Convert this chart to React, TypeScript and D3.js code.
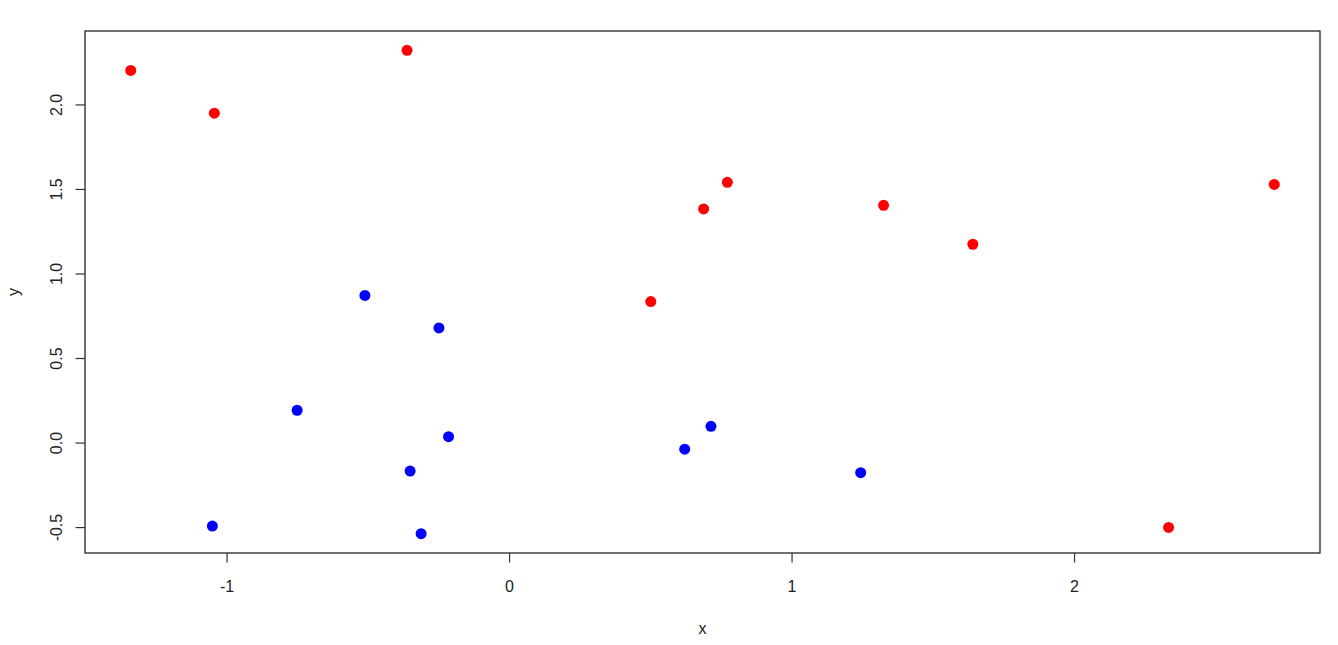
import React from 'react';
import * as d3 from 'd3';

// points
const redX = [-1.341, -1.045, -0.363, 0.500, 0.687, 0.771, 1.324, 1.640, 2.707, 2.333];
const redY = [2.204, 1.951, 2.323, 0.837, 1.385, 1.542, 1.406, 1.176, 1.530, -0.499];
const blueX = [-0.512, -0.250, -0.752, -0.216, -0.352, -0.313, -1.052, 0.620, 0.713, 1.243];
const blueY = [0.873, 0.681, 0.194, 0.038, -0.166, -0.536, -0.491, -0.036, 0.099, -0.175];

const xTicks = [-1, 0, 1, 2];
const yTicks = [-0.5, 0.0, 0.5, 1.0, 1.5, 2.0];

const W = 1338;
const H = 645;
const box = { left: 85, right: 1320, top: 31, bottom: 553 };

// R style axis range: data extent padded by 4% each side
function rRange(vals: number[]): [number, number] {
  const [lo, hi] = d3.extent(vals) as [number, number];
  const pad = (hi - lo) * 0.04;
  return [lo - pad, hi + pad];
}

export default function App() {
  const allX = redX.concat(blueX);
  const allY = redY.concat(blueY);

  const x = d3.scaleLinear().domain(rRange(allX)).range([box.left, box.right]);
  const y = d3.scaleLinear().domain(rRange(allY)).range([box.bottom, box.top]);

  const font = '"Liberation Sans", Arial, sans-serif';
  const tickLen = 9.5;

  const red = redX.map((v, i) => ({ x: v, y: redY[i] }));
  const blue = blueX.map((v, i) => ({ x: v, y: blueY[i] }));

  return (
    <svg width={W} height={H} style={{ position: 'fixed', left: 0, top: 0, background: '#fff' }}>
      <rect x={box.left} y={box.top} width={box.right - box.left} height={box.bottom - box.top}
        fill="none" stroke="#111" strokeWidth={1.2} />

      {xTicks.map(t => (
        <g key={'x' + t}>
          <line x1={x(t)} x2={x(t)} y1={box.bottom} y2={box.bottom + tickLen} stroke="#333" strokeWidth={1.2} />
          <text x={x(t)} y={591.5} textAnchor="middle" fontFamily={font} fontSize={16} fill="#222">
            {d3.format('')(t).replace('−', '-')}
          </text>
        </g>
      ))}

      {yTicks.map(t => (
        <g key={'y' + t}>
          <line x1={box.left - tickLen} x2={box.left} y1={y(t)} y2={y(t)} stroke="#333" strokeWidth={1.2} />
          <text transform={`translate(61.5,${y(t)}) rotate(-90)`} textAnchor="middle"
            fontFamily={font} fontSize={16} fill="#222">
            {d3.format('.1f')(t).replace('−', '-')}
          </text>
        </g>
      ))}

      <text x={(box.left + box.right) / 2} y={634} textAnchor="middle" fontFamily={font} fontSize={16} fill="#222">x</text>
      <text transform={`translate(19,${(box.top + box.bottom) / 2}) rotate(-90)`} textAnchor="middle"
        fontFamily={font} fontSize={16} fill="#222">y</text>

      {red.map((d, i) => (
        <circle key={'r' + i} cx={x(d.x)} cy={y(d.y)} r={5.5} fill="#ff0000" />
      ))}
      {blue.map((d, i) => (
        <circle key={'b' + i} cx={x(d.x)} cy={y(d.y)} r={5.5} fill="#0000ff" />
      ))}
    </svg>
  );
}
